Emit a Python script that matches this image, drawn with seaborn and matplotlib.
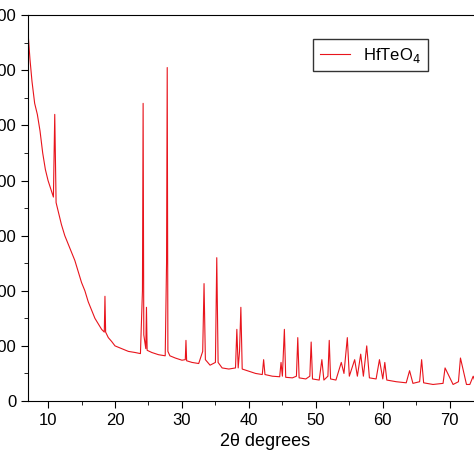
import matplotlib
matplotlib.use('Agg')
import matplotlib.pyplot as plt
import seaborn as sb
import pandas as pd
from matplotlib.ticker import MultipleLocator

# XRD pattern values (2theta, intensity)
two_theta = [7.0, 7.3, 7.6, 8.0, 8.4, 8.8, 9.2, 9.6, 10.0, 10.4, 10.8, 11.0, 11.2, 11.6, 12.0,
             12.5, 13.0, 13.5, 14.0, 14.5, 15.0, 15.5, 16.0, 16.5, 17.0, 17.5, 18.0, 18.4, 18.5,
             18.6, 19.0, 19.5, 20.0, 21.0, 22.0, 23.0, 23.8, 24.1, 24.2, 24.3, 24.6, 24.7, 24.8,
             25.5, 26.5, 27.5, 27.7, 27.8, 27.9, 28.2, 29.0, 30.0, 30.5, 30.6, 30.7, 31.5, 32.5,
             33.1, 33.3, 33.5, 34.2, 35.0, 35.2, 35.4, 36.0, 37.0, 38.0, 38.2, 38.4, 38.6, 38.8,
             39.0, 40.0, 41.0, 42.0, 42.2, 42.4, 43.5, 44.6, 44.8, 45.0, 45.3, 45.5, 46.5, 47.1,
             47.3, 47.5, 48.5, 49.1, 49.3, 49.5, 50.5, 50.9, 51.2, 51.8, 52.0, 52.2, 53.0, 53.8,
             54.2, 54.7, 55.0, 55.8, 56.2, 56.7, 57.1, 57.6, 58.0, 59.0, 59.5, 60.0, 60.3, 60.6,
             62.0, 63.5, 64.0, 64.5, 65.5, 65.8, 66.1, 67.5, 69.0, 69.3, 70.5, 71.3, 71.6, 72.5,
             73.0, 73.5, 74.0]
intensity = [670, 620, 580, 540, 520, 490, 450, 420, 400, 385, 370, 520, 360, 340, 320,
             300, 285, 270, 255, 235, 215, 200, 180, 165, 150, 140, 130, 125, 190,
             125, 115, 108, 100, 95, 90, 88, 86, 200, 540, 120, 95, 170, 92,
             88, 84, 82, 250, 605, 90, 82, 78, 74, 75, 110, 73, 70, 68,
             90, 213, 75, 65, 70, 260, 70, 60, 58, 60, 130, 60, 90, 170,
             58, 54, 50, 48, 75, 48, 45, 44, 70, 45, 130, 43, 42, 45,
             115, 42, 40, 45, 107, 40, 38, 75, 38, 45, 110, 40, 38, 70,
             50, 115, 45, 75, 45, 85, 45, 100, 42, 40, 75, 40, 70, 38,
             35, 33, 55, 32, 35, 75, 33, 30, 32, 60, 30, 35, 78, 30,
             30, 45, 28]

df = pd.DataFrame({'two_theta': two_theta, 'intensity': intensity})

plt.rcParams['font.family'] = ['Liberation Sans', 'DejaVu Sans']
fig = plt.figure(figsize=(4.74, 4.74), dpi=100)
ax = fig.add_axes([0.059, 0.154, 1.0, 0.814])

sb.lineplot(data=df, x='two_theta', y='intensity', ax=ax, color='#e8141c',
            linewidth=0.8, label='HfTeO$_4$')

ax.set_xlim(7, 77.8)
ax.set_ylim(0, 700)
ax.xaxis.set_major_locator(MultipleLocator(10))
ax.xaxis.set_minor_locator(MultipleLocator(5))
ax.yaxis.set_major_locator(MultipleLocator(100))
ax.yaxis.set_minor_locator(MultipleLocator(50))
ax.tick_params(which='major', direction='out', length=5, labelsize=12)
ax.tick_params(which='minor', direction='out', length=3)
ax.set_xlabel('2θ degrees', fontsize=13)
ax.set_ylabel('')
ax.legend(loc='upper left', bbox_to_anchor=(0.584, 0.96), fontsize=12, frameon=True,
          fancybox=False, edgecolor='black', handlelength=1.8)

fig.savefig('out.png', dpi=100)
